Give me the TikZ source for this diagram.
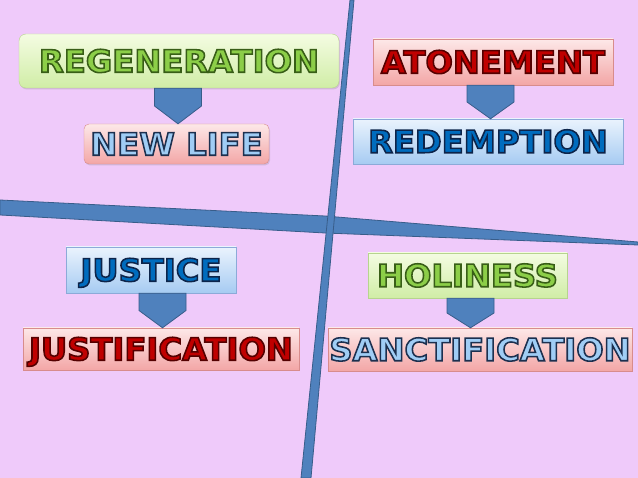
\documentclass[tikz,border=0pt]{standalone}
\usepackage{fontspec}
\newfontfamily\boxfont[FakeBold=5,FakeStretch=1.04]{DejaVu Sans Bold}
\usetikzlibrary{calc,shadows}

\definecolor{bg}{RGB}{239,202,250}
\definecolor{greentop}{RGB}{244,252,226}
\definecolor{greenbot}{RGB}{208,237,166}
\definecolor{greenline}{RGB}{182,212,142}
\definecolor{pinktop}{RGB}{253,232,232}
\definecolor{pinkbot}{RGB}{243,166,166}
\definecolor{pinkline}{RGB}{216,140,140}
\definecolor{bluetop}{RGB}{234,243,253}
\definecolor{bluebot}{RGB}{166,203,242}
\definecolor{blueline}{RGB}{140,170,216}
\definecolor{textgreen}{RGB}{140,206,72}
\definecolor{textred}{RGB}{192,0,0}
\definecolor{textblue}{RGB}{0,108,190}
\definecolor{textsky}{RGB}{160,205,245}
\definecolor{barblue}{RGB}{79,129,189}
\definecolor{barline}{RGB}{56,93,138}

% outline (stroke) colours of the letters, as pdf rgb
\def\linegreen{0.22 0.37 0.09}
\def\linered{0.33 0 0}
\def\lineblue{0.05 0.14 0.29}
\def\linesky{0.11 0.19 0.31}

% outlined letters: #1 outline, #2 fill, #3 text
\newcommand\outlined[3]{{\color{#2}\special{pdf:literal direct #1 RG}#3}}

% block arrow from one box down to the next: #1 x, #2 from, #3 to
\newcommand\blockarrow[3]{%
  \draw[blockarr] let \p1=(#2.south), \p2=(#3.north) in
    ({#1pt-23.5pt},\y1) -- ({#1pt+23.5pt},\y1) -- ({#1pt+23.5pt},{0.5*\y1+0.5*\y2})
    -- (#1pt,\y2) -- ({#1pt-23.5pt},{0.5*\y1+0.5*\y2}) -- cycle;}

\begin{document}
\begin{tikzpicture}[x=1pt,y=-1pt,
	box/.style={inner sep=0pt, text height=22.5pt, text depth=0pt,
		font=\boxfont\fontsize{31}{31}\selectfont,
		drop shadow={shadow xshift=1pt, shadow yshift=-1.5pt, opacity=0.25}},
	greenbox/.style={box, top color=greentop, bottom color=greenbot, draw=greenline},
	pinkbox/.style={box, top color=pinktop, bottom color=pinkbot, draw=pinkline},
	bluebox/.style={box, top color=bluetop, bottom color=bluebot, draw=blueline},
	bar/.style={fill=barblue, draw=barline, line width=0.8pt},
	blockarr/.style={fill=barblue, draw=barline, line width=0.8pt}]
	\useasboundingbox[fill=bg] (0,0) rectangle (638,478);
	% crossing bars
	\filldraw[bar] (0,200) -- (325,216) -- (638,242) -- (638,245) -- (325,233) -- (0,215) -- cycle;
	\filldraw[bar] (350,0) -- (354,0) -- (311,478) -- (301,478) -- cycle;
	% boxes
	\node[greenbox, rounded corners=7pt, minimum width=320, minimum height=54] (regen) at (179,61)
		{\outlined{\linegreen}{textgreen}{REGENERATION}\hspace{10pt}};
	\node[pinkbox, rounded corners=5pt, minimum width=185, minimum height=40] (newlife) at (176.5,144)
		{\outlined{\linesky}{textsky}{NEW LIFE}};
	\node[pinkbox, minimum width=240, minimum height=46] (atone) at (493,62)
		{\outlined{\linered}{textred}{ATONEMENT}};
	\node[bluebox, minimum width=270, minimum height=45] (redeem) at (488,141.5)
		{\outlined{\lineblue}{textblue}{REDEMPTION}};
	\node[bluebox, minimum width=170, minimum height=46] (justice) at (151,270)
		{\outlined{\lineblue}{textblue}{JUSTICE}};
	\node[pinkbox, minimum width=276, minimum height=42] (justif) at (161,349)
		{\outlined{\linered}{textred}{JUSTIFICATION}};
	\node[greenbox, minimum width=199, minimum height=45] (holy) at (467.5,275.5)
		{\outlined{\linegreen}{textgreen}{HOLINESS}};
	\node[pinkbox, minimum width=304, minimum height=43] (sanct) at (480,349.5)
		{\outlined{\linesky}{textsky}{SANCTIFICATION}};
	% arrows
	\blockarrow{178}{regen}{newlife}
	\blockarrow{490.5}{atone}{redeem}
	\blockarrow{162.5}{justice}{justif}
	\blockarrow{470.5}{holy}{sanct}
\end{tikzpicture}
\end{document}
